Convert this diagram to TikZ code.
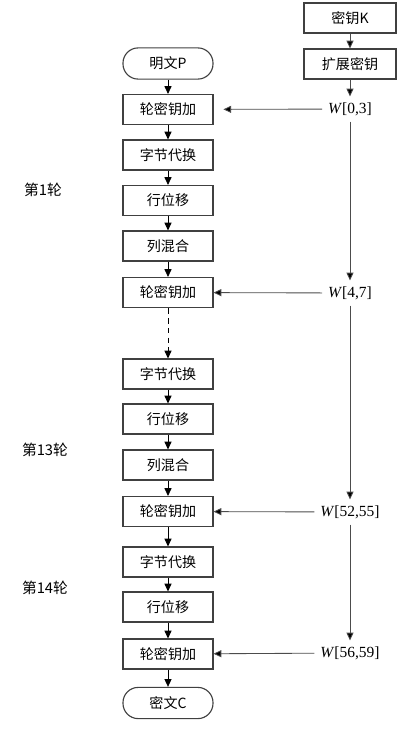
\documentclass[tikz,border=0pt]{standalone}
\usepackage{fontspec}
\setmainfont{Noto Sans CJK SC}
\newfontfamily\wfont{Liberation Serif}
\usetikzlibrary{positioning,arrows.meta}

\begin{document}
\begin{tikzpicture}[x=0.025cm, y=-0.025cm, font=\fontsize{10}{12}\selectfont,
    block/.style={draw=black!75, line width=0.8pt, minimum width=2.25cm, minimum height=0.75cm, inner sep=0pt},
    term/.style={block, rounded corners=0.38cm, minimum height=0.78cm},
    wkey/.style={font=\wfont\fontsize{11}{12}\selectfont, inner sep=4pt},
    round/.style={font=\fontsize{10.5}{12}\selectfont},
    >={Triangle[length=5.5pt,width=5pt]}, line width=0.6pt]

    \useasboundingbox (0,0) rectangle (401,730);

    % main column
    \node[term]  (pt)    at (168,63.5) {明文P};
    \node[block] (ark0)  at (168,109.5) {轮密钥加};
    \node[block] (sb1)   at (168,155) {字节代换};
    \node[block] (sr1)   at (168,200.5) {行位移};
    \node[block] (mc1)   at (168,246) {列混合};
    \node[block] (ark1)  at (168,292.5) {轮密钥加};
    \node[block] (sb13)  at (168,374) {字节代换};
    \node[block] (sr13)  at (168,419) {行位移};
    \node[block] (mc13)  at (168,465) {列混合};
    \node[block] (ark13) at (168,511.5) {轮密钥加};
    \node[block] (sb14)  at (168,562) {字节代换};
    \node[block] (sr14)  at (168,607) {行位移};
    \node[block] (ark14) at (168,654) {轮密钥加};
    \node[term]  (ct)    at (168,703) {密文C};

    % key schedule
    \node[block, minimum width=2.3cm] (key) at (350,18) {密钥K};
    \node[block, minimum width=2.3cm] (exp) at (350,64) {扩展密钥};
    \node[wkey] (w0)  at (350,109) {\textit{W}[0,3]};
    \node[wkey] (w1)  at (350,293) {\textit{W}[4,7]};
    \node[wkey] (w13) at (350,512) {\textit{W}[52,55]};
    \node[wkey] (w14) at (350,653) {\textit{W}[56,59]};

    % round labels
    \node[round] (r1)  at (43,190) {第1轮};
    \node[round] (r13) at (45,450) {第13轮};
    \node[round] (r14) at (45,588) {第14轮};

    \path[->]
        (pt) edge (ark0)
        (ark0) edge (sb1)
        (sb1) edge (sr1)
        (sr1) edge (mc1)
        (mc1) edge (ark1)
        (ark1) edge[dash pattern=on 4pt off 3pt] (sb13)
        (sb13) edge (sr13)
        (sr13) edge (mc13)
        (mc13) edge (ark13)
        (ark13) edge (sb14)
        (sb14) edge (sr14)
        (sr14) edge (ark14)
        (ark14) edge (ct);

    \path[->, draw=black!70]
        (key) edge (exp)
        (exp) edge (w0)
        (w0) edge (w1)
        (w1) edge (w13)
        (w13) edge (w14)

        (w0) edge[shorten >=7pt] (ark0)
        (w1) edge (ark1)
        (w13) edge (ark13)
        (w14) edge (ark14);

\end{tikzpicture}
\end{document}
